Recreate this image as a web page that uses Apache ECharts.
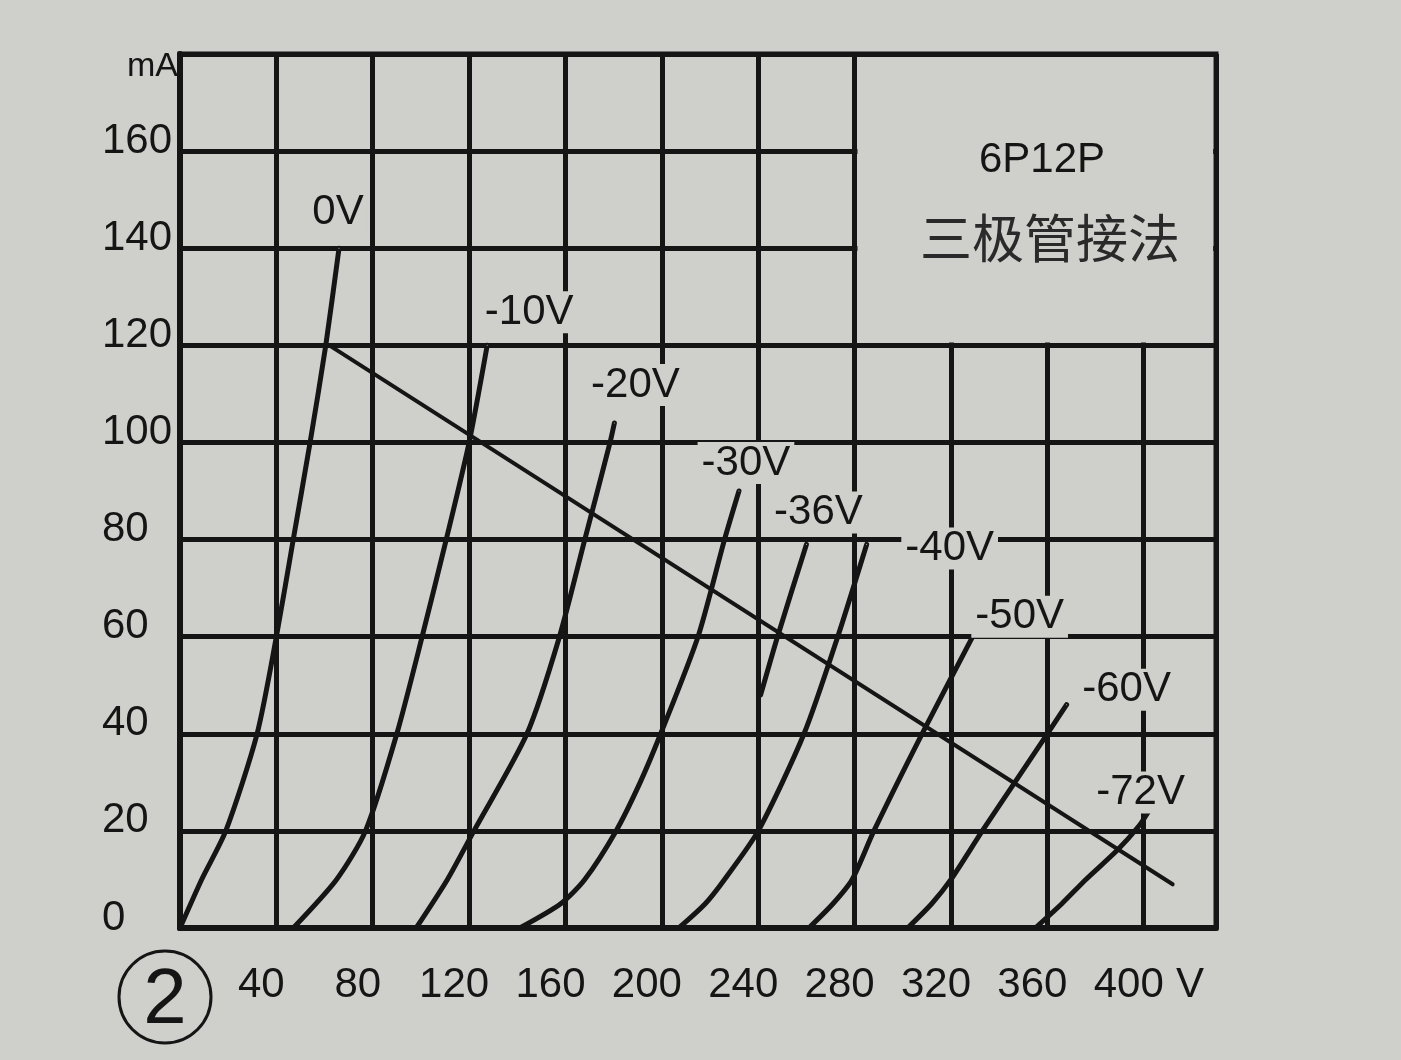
<!DOCTYPE html>
<html>
<head>
<meta charset="utf-8">
<script src="https://cdn.jsdelivr.net/npm/echarts@6/dist/echarts.min.js"></script>
<style>
html,body{margin:0;padding:0;background:#cfcfcb;}
#chart{width:1401px;height:1060px;}
</style>
</head>
<body>
<div id="chart"></div>
<script>
// ---- data (anode voltage V, anode current mA) ----
const curveNames = ['0V', '-10V', '-20V', '-30V', '-36V', '-40V', '-50V', '-60V', '-72V'];
const g0   = [[0,0],[9,10],[19,20],[32,40],[40,60],[47,80],[54,100],[60.5,120],[66,140]];
const g10  = [[47,0],[65,10],[77,20],[90,40],[100.5,60],[110.5,80],[120,100],[127.5,120]];
const g20  = [[98,0],[111,10],[122,20],[144,40],[157.5,60],[168,80],[178.5,100],[180.3,104]];
const g30  = [[141,0],[158,5],[168,10],[181,20],[191,30],[199.5,40],[215,60],[226,80],[232,90]];
const g36  = [[241,48],[248,60],[260,79]];
const g40  = [[207,0],[218,5],[226,10],[240,20],[259,40],[273,60],[285,79]];
const g50  = [[261,0],[271,5],[279,10],[288,20],[308,40],[329,60]];
const g60  = [[302,0],[312,5],[320,10],[333,20],[346.5,30],[360,40],[368,46]];
const g72  = [[355,0],[366,5],[376,10],[389,16],[398,21],[402,24]];
const loadLine = [[62,120],[412,9]];
const curves = [g0, g10, g20, g30, g36, g40, g50, g60, g72];
const xMax = 430, yMax = 180;
const titleText = '6P12P';
const subTitleText = '三极管接法';
const figNo = '2';

// ---- styles ----
const ink = '#151515';
const paper = '#cfcfcb';
const font = '"Liberation Sans", Arial, Helvetica, sans-serif';
const labelOffsets = [[-1,-36],[42,-33],[21,-38],[7,-28],[12,-32],[83,4],[47,-20],[60,-15],[-8,-19]];
const titleBox = [[281.2,120.6],[428.8,179.4]];

const chart = echarts.init(document.getElementById('chart'), null, {renderer:'canvas'});

const series = curves.map((d,i) => ({
  type:'line', name:curveNames[i], data:d,
  smooth:0.25,
  showSymbol:false, symbol:'none', silent:true, z:3,
  lineStyle:{color:ink, width:5, cap:'round', join:'round'}
}));

series.push({
  type:'line', name:'load', data:loadLine, showSymbol:false, symbol:'none', silent:true, z:3,
  lineStyle:{color:ink, width:4, cap:'round'},
  markArea:{silent:true, itemStyle:{color:paper, opacity:1}, label:{show:false},
    data:[[{coord:titleBox[0]},{coord:titleBox[1]}]]}
});

series.push({
  type:'scatter', name:'labels', silent:true, z:6, symbolSize:1,
  itemStyle:{color:paper, opacity:1},
  label:{show:true, position:'inside', formatter:'{b}', fontSize:42, color:ink, opacity:1,
    textBorderWidth:0, fontFamily:font, backgroundColor:paper, padding:[0,4]},
  data: curves.map((d,i) => ({name:curveNames[i], value:d[d.length-1], label:{offset:labelOffsets[i]}}))
});

chart.setOption({
  backgroundColor: paper,
  animation:false,
  grid:{left:180, right:185, top:54, bottom:132, show:true, borderColor:ink, borderWidth:5,
        backgroundColor:'transparent', outerBoundsMode:'none', containLabel:false},
  xAxis:{
    type:'value', min:0, max:xMax, interval:40,
    axisLine:{show:true, lineStyle:{color:ink, width:6}},
    axisTick:{show:false},
    splitLine:{show:true, lineStyle:{color:ink, width:5}},
    axisLabel:{
      show:true, margin:36, fontSize:42, color:ink, fontFamily:font,
      hideOverlap:false, showMinLabel:true, showMaxLabel:true,
      formatter: v => v === 0 ? '' : (v >= xMax ? '{v|V}' : '{n|' + v + '}'),
      rich:{ n:{padding:[0,30,0,0]}, v:{padding:[0,52,0,0]} }
    }
  },
  yAxis:{
    type:'value', min:0, max:yMax, interval:20,
    axisLine:{show:true, lineStyle:{color:ink, width:6}},
    axisTick:{show:false},
    splitLine:{show:true, lineStyle:{color:ink, width:5}},
    axisLabel:{
      show:true, align:'left', margin:78, fontSize:42, color:ink, fontFamily:font,
      hideOverlap:false, showMinLabel:true, showMaxLabel:true,
      formatter: v => v === yMax ? '{u|mA}' : '{n|' + v + '}',
      rich:{ n:{padding:[0,0,20,0]}, u:{fontSize:34, padding:[26,0,0,25]} }
    }
  },
  graphic:[
    {type:'circle', shape:{cx:165, cy:997, r:46}, style:{fill:'none', stroke:ink, lineWidth:3}, z:10},
    {type:'text', x:165, y:1001, style:{text:figNo, fontSize:78, fill:ink, fontFamily:font, align:'center', verticalAlign:'middle'}, z:10},
    {type:'text', x:1042, y:160, style:{text:titleText, fontSize:42, fill:ink, fontFamily:font, align:'center', verticalAlign:'middle'}, z:10},
    {type:'text', x:1050, y:238, style:{text:subTitleText, fontSize:52, fill:'#2a2a2a', fontFamily:'"Noto Sans CJK SC", sans-serif', align:'center', verticalAlign:'middle'}, z:10}
  ],
  series: series
});
</script>
</body>
</html>
